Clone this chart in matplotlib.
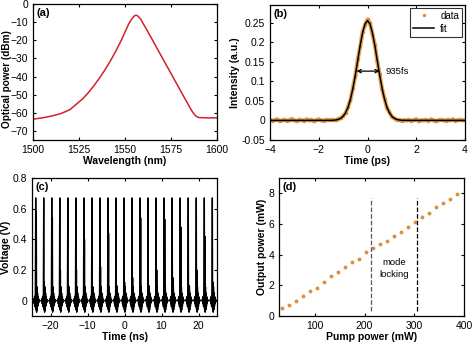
import numpy as np
import matplotlib
matplotlib.use('Agg')
import matplotlib.pyplot as plt

plt.rcParams['font.family'] = ['Liberation Sans', 'DejaVu Sans']
plt.rcParams['font.size'] = 7.5
plt.rcParams['xtick.direction'] = 'in'
plt.rcParams['ytick.direction'] = 'in'
plt.rcParams['xtick.top'] = True
plt.rcParams['ytick.right'] = True
plt.rcParams['xtick.major.size'] = 2.5
plt.rcParams['ytick.major.size'] = 2.5
plt.rcParams['axes.linewidth'] = 0.9

ORANGE = '#dd8f3a'

# (a) 光スペクトル
wl = [1500, 1505, 1510, 1515, 1520, 1525, 1527, 1530, 1533, 1536, 1539, 1542, 1545,
      1548, 1550, 1552, 1553.5, 1555, 1556, 1557, 1558.5, 1560, 1562, 1565, 1568,
      1571, 1574, 1577, 1580, 1583, 1585.5, 1587, 1588.5, 1590, 1595, 1600]
spec = [-63.5, -62.8, -61.8, -60.5, -58.3, -54.0, -52.3, -49.0, -45.2, -41.0, -36.5,
        -31.5, -26.0, -20.0, -15.5, -11.0, -8.5, -6.6, -6.2, -6.6, -8.3, -11.0,
        -14.5, -20.0, -25.5, -31.0, -36.5, -42.0, -47.5, -53.0, -57.5, -60.0,
        -61.8, -62.6, -62.8, -62.8]

# (b) 自己相関 (data / fit)
t_data = np.round(np.arange(-4.0, 4.01, 0.1), 1)
i_data = [0.002, -0.001, 0.001, 0.003, -0.002, 0.000, 0.002, -0.001, 0.001, 0.004,
          0.000, -0.002, 0.002, 0.001, -0.001, 0.003, 0.000, 0.002, -0.002, 0.001,
          0.003, 0.000, -0.001, 0.002, 0.001,
          0.001, 0.002, 0.000, 0.004, 0.006, 0.012, 0.018, 0.035, 0.052, 0.083,
          0.113, 0.156, 0.189, 0.227, 0.244, 0.258, 0.249, 0.221, 0.194, 0.151,
          0.118, 0.079, 0.056, 0.031, 0.021, 0.009, 0.006, 0.001, 0.002, -0.001,
          0.001,
          0.000, 0.002, -0.001, 0.001, 0.003, -0.002, 0.001, 0.000, 0.002, -0.001,
          0.003, 0.001, -0.002, 0.000, 0.002, 0.001, -0.001, 0.002, 0.000, 0.003,
          -0.001, 0.001, 0.002, 0.000, 0.001]
t_fit = [-4.0] + list(np.round(np.arange(-1.5, 1.51, 0.1), 1)) + [4.0]
i_fit = [0.0,
         0.0002, 0.0005, 0.0012, 0.0027, 0.0055, 0.0107, 0.0196, 0.0335, 0.0539, 0.0815,
         0.1154, 0.1536, 0.1917, 0.2246, 0.247, 0.255, 0.247, 0.2246, 0.1917, 0.1536,
         0.1154, 0.0815, 0.0539, 0.0335, 0.0196, 0.0107, 0.0055, 0.0027, 0.0012, 0.0005,
         0.0002,
         0.0]
fwhm_left, fwhm_right, fwhm_level = -0.45, 0.5, 0.126

# (c) パルス列
spike_t = [-24.0, -21.83, -19.66, -17.49, -15.32, -13.15, -10.98, -8.81, -6.64, -4.47,
           -2.30, -0.13, 2.04, 4.21, 6.38, 8.55, 10.72, 12.89, 15.06, 17.23,
           19.40, 21.57, 23.74]
spike_peak = 0.67
spike_sub = [0.58, 0.12, 0.54, 0.20, 0.10, 0.20, 0.40, 0.07, 0.22, 0.44,
             0.10, 0.12, 0.15, 0.54, 0.10, 0.20, 0.53, 0.15, 0.48, 0.10,
             0.20, 0.42, 0.12]
# 1パルス分の波形 (None = 主ピーク / 副ピーク)
ring_dt = [-0.6, -0.5, -0.4, -0.3, -0.2, -0.1, 0.0, 0.08, 0.16, 0.24, 0.32, 0.4, 0.5,
           0.6, 0.7, 0.8, 0.9, 1.0]
ring_v = [0.0, 0.012, -0.02, 0.028, -0.04, 0.055, None, -0.06, None, -0.075, 0.09,
          -0.06, 0.05, -0.035, 0.025, -0.015, 0.008, 0.0]

# (d) 出力特性
pump = [35, 49, 63, 77, 91, 105, 119, 133, 147, 161, 175, 189, 203, 217, 231, 245,
        259, 273, 287, 301, 315, 329, 343, 357, 371, 385]
out_p = [0.5, 0.7, 1.0, 1.3, 1.6, 1.8, 2.2, 2.6, 2.9, 3.2, 3.5, 3.7, 4.2, 4.45, 4.7,
         4.9, 5.2, 5.5, 5.8, 6.15, 6.45, 6.75, 7.1, 7.4, 7.65, 7.95]
ml_start, ml_end = 213, 306

W, H = 474, 343
fig = plt.figure(figsize=(W / 100, H / 100), dpi=100)


def add_ax(l, r, t, b):
    return fig.add_axes([l / W, 1 - b / H, (r - l) / W, (b - t) / H])


def panel_label(ax, s):
    ax.text(0.02, 0.97, s, transform=ax.transAxes, ha='left', va='top',
            fontweight='bold', fontsize=8)


# (a)
ax1 = add_ax(33, 217, 4, 140)
ax1.plot(wl, spec, color='#d4202a', lw=1.1)
ax1.set_xlim(1500, 1600)
ax1.set_ylim(-75, 0)
ax1.set_xticks([1500, 1525, 1550, 1575, 1600])
ax1.set_yticks(range(-70, 1, 10))
ax1.set_xlabel('Wavelength (nm)', fontweight='bold', labelpad=1)
ax1.set_ylabel('Optical power (dBm)', fontweight='bold', labelpad=1, fontsize=7.2)
ax1.yaxis.set_label_coords(-0.115, 0.45)
panel_label(ax1, '(a)')

# (b)
ax2 = add_ax(270, 465, 5, 140)
ax2.plot(t_data, i_data, color=ORANGE, lw=3.0, alpha=0.8)
ax2.plot(t_data, i_data, 'o', color=ORANGE, ms=2.5, mew=0, label='data')
ax2.plot(t_fit, i_fit, color='black', lw=1.1, label='fit')
ax2.annotate('', xy=(fwhm_left, fwhm_level), xytext=(fwhm_right, fwhm_level),
             arrowprops=dict(arrowstyle='<->', color='black', lw=0.9,
                             shrinkA=0, shrinkB=0, mutation_scale=6))
ax2.text(fwhm_right + 0.25, fwhm_level, '935fs', ha='left', va='center', fontsize=6.8)
ax2.set_xlim(-4, 4)
ax2.set_ylim(-0.05, 0.295)
ax2.set_xticks([-4, -2, 0, 2, 4])
ax2.set_yticks([-0.05, 0, 0.05, 0.1, 0.15, 0.2, 0.25])
ax2.set_yticklabels(['-0.05', '0', '0.05', '0.1', '0.15', '0.2', '0.25'])
ax2.set_xlabel('Time (ps)', fontweight='bold', labelpad=1)
ax2.set_ylabel('Intensity (a.u.)', fontweight='bold', labelpad=1)
leg = ax2.legend(loc='upper right', fontsize=7, frameon=True, fancybox=False,
                 edgecolor='black', borderpad=0.3, handlelength=2.2,
                 handletextpad=0.6, borderaxespad=0.3, labelspacing=0.3)
leg.get_frame().set_linewidth(0.8)
panel_label(ax2, '(b)')

# (c)
tt, vv = [], []
for t0, sub in zip(spike_t, spike_sub):
    for dt, v in zip(ring_dt, ring_v):
        if v is None:
            v = spike_peak if dt == 0.0 else sub
        tt.append(t0 + dt)
        vv.append(v)
ax3 = add_ax(32, 217, 178, 316)
ax3.plot([-25] + tt + [25], [0] + vv + [0], color='black', lw=1.0)
ax3.set_xlim(-25, 25)
ax3.set_ylim(-0.1, 0.8)
ax3.set_xticks([-20, -10, 0, 10, 20])
ax3.set_yticks([0, 0.2, 0.4, 0.6, 0.8])
ax3.set_yticklabels(['0', '0.2', '0.4', '0.6', '0.8'])
ax3.set_xlabel('Time (ns)', fontweight='bold', labelpad=1)
ax3.set_ylabel('Voltage (V)', fontweight='bold', labelpad=1)
panel_label(ax3, '(c)')

# (d)
ax4 = add_ax(279, 464, 178, 316)
ax4.plot(pump, out_p, 'o', color=ORANGE, ms=2.8, mew=0)
ax4.plot([ml_start, ml_start], [0.3, 7.7], '--', color='#555566', lw=0.9)
ax4.plot([ml_end, ml_end], [0.3, 7.7], '--', color='black', lw=0.9)
ax4.text((ml_start + ml_end) / 2, 3.1, 'mode\nlocking', ha='center', va='center',
         fontsize=6.8, linespacing=1.3)
ax4.set_xlim(28, 400)
ax4.set_ylim(0, 9)
ax4.set_xticks([100, 200, 300, 400])
ax4.set_yticks([0, 2, 4, 6, 8])
ax4.set_xlabel('Pump power (mW)', fontweight='bold', labelpad=1)
ax4.set_ylabel('Output power (mW)', fontweight='bold', labelpad=1)
panel_label(ax4, '(d)')

fig.savefig('out.png', dpi=100)
